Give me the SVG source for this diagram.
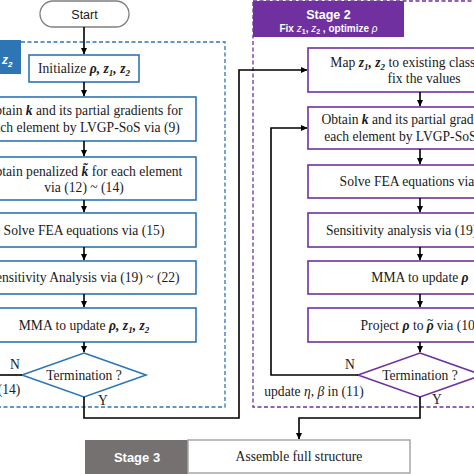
<svg xmlns="http://www.w3.org/2000/svg" width="474" height="474" viewBox="0 0 474 474">
<defs>
<marker id="ah" markerWidth="7" markerHeight="7" refX="6" refY="3.5" orient="auto" markerUnits="userSpaceOnUse">
<path d="M0,0.5 L6.5,3.5 L0,6.5 Z" fill="#000"/>
</marker>
<style>
.t{font-family:"Liberation Serif","Times New Roman",serif;font-size:13.6px;fill:#1a1a1a;text-anchor:middle}
.m{font-weight:bold;font-style:italic}
.b1{fill:#fff;stroke:#2E75B6;stroke-width:1.6}
.b2{fill:#fff;stroke:#7030A0;stroke-width:1.6}
.c{fill:none;stroke:#000;stroke-width:1.6}
.a{fill:none;stroke:#000;stroke-width:1.6;marker-end:url(#ah)}
.h{font-family:"Liberation Sans","Open Sans",sans-serif;font-weight:bold;fill:#fff;text-anchor:middle}
</style>
</defs>
<rect width="474" height="474" fill="#fff"/>

<g id="stage1-frame">
<rect x="-5" y="42" width="230" height="365" fill="none" stroke="#2E75B6" stroke-width="1.3" stroke-dasharray="4 2.5"/>
<rect x="-5" y="40" width="26" height="34" fill="#2E75B6"/>
<text x="2" y="64" class="h" style="font-size:12px;text-anchor:start;font-style:italic">z<tspan font-size="8" dy="3">2</tspan></text>
</g>

<g id="stage2-frame">
<rect x="253" y="1" width="240" height="406" fill="none" stroke="#7030A0" stroke-width="1.3" stroke-dasharray="4 2.5"/>
<rect x="253" y="1" width="151" height="36" fill="#7030A0"/>
<text x="328.5" y="19" class="h" style="font-size:12.5px">Stage 2</text>
<text x="328.5" y="32" class="h" style="font-size:10px">Fix <tspan font-style="italic" font-weight="normal">z</tspan><tspan font-size="7" dy="2">1</tspan><tspan dy="-2">, </tspan><tspan font-style="italic" font-weight="normal">z</tspan><tspan font-size="7" dy="2">2</tspan><tspan dy="-2"> , optimize </tspan><tspan font-style="italic" font-weight="normal">ρ</tspan></text>
</g>

<g id="start">
<rect x="40" y="1" width="89" height="26" rx="13" fill="#fff" stroke="#7f7f7f" stroke-width="1.3"/>
<text x="84.5" y="19" style="font-family:'Liberation Sans','Open Sans',sans-serif;font-size:12.5px;text-anchor:middle;fill:#1a1a1a">Start</text>
</g>

<g id="s1-init">
<rect x="29" y="55" width="110" height="27" class="b1"/>
<text x="84" y="73" class="t">Initialize <tspan class="m">ρ, z</tspan><tspan class="m" font-size="9" dy="3">1</tspan><tspan class="m" dy="-3">, z</tspan><tspan class="m" font-size="9" dy="3">2</tspan></text>
</g>
<g id="s1-obtain">
<rect x="-28" y="97" width="224" height="44" class="b1"/>
<text x="84" y="115" class="t">Obtain <tspan class="m">k</tspan> and its partial gradients for</text>
<text x="84" y="132" class="t">each element by LVGP-SoS via (9)</text>
</g>
<g id="s1-penal">
<rect x="-28" y="157" width="224" height="43" class="b1"/>
<text x="84" y="176" class="t">Obtain penalized <tspan class="m">k̃</tspan> for each element</text>
<text x="84" y="192" class="t">via (12) ~ (14)</text>
</g>
<g id="s1-fea">
<rect x="-28" y="213" width="224" height="34" class="b1"/>
<text x="84" y="235" class="t">Solve FEA equations via (15)</text>
</g>
<g id="s1-sens">
<rect x="-28" y="261" width="224" height="33" class="b1"/>
<text x="84" y="282" class="t">Sensitivity Analysis via (19) ~ (22)</text>
</g>
<g id="s1-mma">
<rect x="-28" y="308" width="224" height="34" class="b1"/>
<text x="84" y="330" class="t">MMA to update <tspan class="m">ρ, z</tspan><tspan class="m" font-size="9" dy="3">1</tspan><tspan class="m" dy="-3">, z</tspan><tspan class="m" font-size="9" dy="3">2</tspan></text>
</g>
<g id="s1-term">
<polygon points="84,353 146,375 84,397 22,375" class="b1"/>
<text x="84" y="380" class="t">Termination ?</text>
</g>

<g id="s2-map">
<rect x="308" y="48" width="224" height="44" class="b2"/>
<text x="420" y="67" class="t">Map <tspan class="m">z</tspan><tspan class="m" font-size="9" dy="3">1</tspan><tspan class="m" dy="-3">, z</tspan><tspan class="m" font-size="9" dy="3">2</tspan><tspan dy="-3"> to existing classes and</tspan></text>
<text x="424" y="83" class="t">fix the values</text>
</g>
<g id="s2-obtain">
<rect x="308" y="107" width="224" height="42" class="b2"/>
<text x="420" y="124" class="t">Obtain <tspan class="m">k</tspan> and its partial gradients for</text>
<text x="420" y="141" class="t">each element by LVGP-SoS via (9)</text>
</g>
<g id="s2-fea">
<rect x="308" y="165" width="224" height="33" class="b2"/>
<text x="420" y="186" class="t">Solve FEA equations via (15)</text>
</g>
<g id="s2-sens">
<rect x="308" y="213" width="224" height="34" class="b2"/>
<text x="420" y="235" class="t">Sensitivity analysis via (19) ~ (22)</text>
</g>
<g id="s2-mma">
<rect x="308" y="261" width="224" height="33" class="b2"/>
<text x="420" y="282" class="t">MMA to update <tspan class="m">ρ</tspan></text>
</g>
<g id="s2-proj">
<rect x="308" y="308" width="224" height="34" class="b2"/>
<text x="420" y="330" class="t">Project <tspan class="m">ρ</tspan> to <tspan class="m">ρ</tspan><tspan class="m" font-size="11" dx="-6.8" dy="-7">~</tspan><tspan dy="7"> via (10)</tspan></text>
</g>
<g id="s2-term">
<polygon points="420,353 482,375 420,397 358,375" class="b2"/>
<text x="420" y="380" class="t">Termination ?</text>
</g>

<g id="stage3">
<rect x="85" y="440" width="103" height="34" fill="#767171"/>
<text x="137" y="462" class="h" style="font-size:13px">Stage 3</text>
<rect x="188" y="440" width="222" height="33" fill="#fff" stroke="#A6A6A6" stroke-width="1.5"/>
<text x="299" y="461" class="t">Assemble full structure</text>
</g>

<g id="connectors">
<path d="M84,27 V54" class="a"/>
<path d="M84,82 V96" class="a"/>
<path d="M84,141 V156" class="a"/>
<path d="M84,200 V212" class="a"/>
<path d="M84,247 V260" class="a"/>
<path d="M84,294 V307" class="a"/>
<path d="M84,342 V352" class="a"/>
<path d="M22,375 H-5" class="c"/>
<path d="M84,397 V418 H239 V70 H307" class="a"/>
<path d="M420,92 V106" class="a"/>
<path d="M420,149 V164" class="a"/>
<path d="M420,198 V212" class="a"/>
<path d="M420,247 V260" class="a"/>
<path d="M420,294 V307" class="a"/>
<path d="M420,342 V352" class="a"/>
<path d="M358,375 H271 V128 H307" class="a"/>
<path d="M420,397 V418 H299 V439" class="a"/>
</g>

<g id="labels">
<text x="15" y="369" class="t">N</text>
<text x="9" y="394" class="t">(14)</text>
<text x="103" y="405" class="t">Y</text>
<text x="350" y="369" class="t">N</text>
<text x="314" y="396" class="t">update <tspan font-style="italic">η</tspan>, <tspan font-style="italic">β</tspan> in (11)</text>
<text x="437" y="404" class="t">Y</text>
</g>
</svg>
